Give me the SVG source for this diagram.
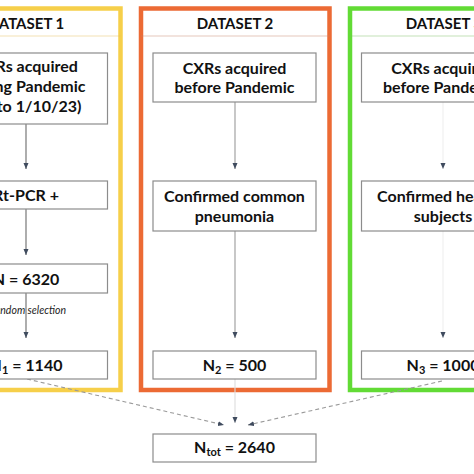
<svg xmlns="http://www.w3.org/2000/svg" width="474" height="474" viewBox="0 0 474 474">
<defs>
<marker id="ah" viewBox="0 0 6 6" refX="6" refY="3" markerWidth="6" markerHeight="6" markerUnits="userSpaceOnUse" orient="auto">
<path d="M0,0.5 L6,3 L0,5.5 z" fill="#3f4b5e"/>
</marker>
<style>
.frame{fill:none;stroke-width:4.5}
.sep{stroke-width:1.2;opacity:0.45}
.box{fill:#fff;stroke:#8c8c8c;stroke-width:1.2}
.t{font-family:Lato,"Open Sans",sans-serif;font-weight:bold;font-size:16px;fill:#111;text-anchor:middle}
.h{font-family:Lato,"Open Sans",sans-serif;font-weight:bold;font-size:15px;fill:#111;text-anchor:middle}
.sub{font-size:11px}
.it{font-family:Lato,"Open Sans",sans-serif;font-style:italic;font-size:10.5px;fill:#222;text-anchor:end}
.c{fill:none;stroke-width:1.1}
</style>
</defs>
<rect width="474" height="474" fill="#fff"/>
<g id="dataset1">
<rect class="frame" x="-68" y="8.5" width="188.5" height="381.5" stroke="#F6CF4A"/>
<line class="sep" x1="-68" y1="36" x2="120.5" y2="36" stroke="#E6C15A"/>
<text class="h" x="26" y="29">DATASET 1</text>
</g>
<g id="dataset2">
<rect class="frame" x="141" y="8.5" width="188.5" height="381.5" stroke="#EC6A34"/>
<line class="sep" x1="141" y1="36" x2="329.5" y2="36" stroke="#C8866A"/>
<text class="h" x="235" y="29">DATASET 2</text>
</g>
<g id="dataset3">
<rect class="frame" x="350" y="8.5" width="188.5" height="381.5" stroke="#62DB35"/>
<line class="sep" x1="350" y1="36" x2="538.5" y2="36" stroke="#7DBE62"/>
<text class="h" x="444" y="29">DATASET 3</text>
</g>
<g id="connectors">
<line class="c" x1="26" y1="124" x2="26" y2="169" stroke="#6b6b6b" marker-end="url(#ah)"/>
<line class="c" x1="26" y1="209" x2="26" y2="255" stroke="#6b6b6b" marker-end="url(#ah)"/>
<line class="c" x1="26" y1="293" x2="26" y2="338" stroke="#6b6b6b" marker-end="url(#ah)"/>
<line class="c" x1="235" y1="102" x2="235" y2="169" stroke="#9a9a9a" marker-end="url(#ah)"/>
<line class="c" x1="235" y1="231" x2="235" y2="338" stroke="#9a9a9a" marker-end="url(#ah)"/>
<line class="c" x1="443" y1="102" x2="443" y2="169" stroke="#efefef" marker-end="url(#ah)"/>
<line class="c" x1="443" y1="231" x2="443" y2="338" stroke="#efefef" marker-end="url(#ah)"/>
<line class="c" x1="235" y1="379" x2="235" y2="423" stroke="#dcdcdc" marker-end="url(#ah)"/>
<line class="c" x1="27" y1="379" x2="224" y2="425" stroke="#9a9a9a" stroke-dasharray="4 3" marker-end="url(#ah)"/>
<line class="c" x1="442" y1="381" x2="248" y2="425" stroke="#9a9a9a" stroke-dasharray="4 3" marker-end="url(#ah)"/>
<text class="it" x="66" y="314">Random selection</text>
</g>
<g id="d1-acquired">
<rect class="box" x="-55.5" y="53" width="163" height="71"/>
<text class="t" x="26" y="72">CXRs acquired</text>
<text class="t" x="26" y="92">during Pandemic</text>
<text class="t" x="26" y="112">(up to 1/10/23)</text>
</g>
<g id="d1-rtpcr">
<rect class="box" x="-55.5" y="181" width="163" height="28"/>
<text class="t" x="26" y="200.5">Rt-PCR +</text>
</g>
<g id="d1-n">
<rect class="box" x="-55.5" y="264" width="163" height="29"/>
<text class="t" x="26" y="284.5">N = 6320</text>
</g>
<g id="d1-n1">
<rect class="box" x="-55.5" y="351" width="163" height="28"/>
<text class="t" x="26" y="371">N<tspan class="sub" dy="3">1</tspan><tspan dy="-3"> = 1140</tspan></text>
</g>
<g id="d2-acquired">
<rect class="box" x="153" y="53" width="163" height="49"/>
<text class="t" x="234.5" y="74">CXRs acquired</text>
<text class="t" x="234.5" y="93">before Pandemic</text>
</g>
<g id="d2-confirmed">
<rect class="box" x="153" y="181" width="163" height="50"/>
<text class="t" x="234.5" y="201.5">Confirmed common</text>
<text class="t" x="234.5" y="221.5">pneumonia</text>
</g>
<g id="d2-n2">
<rect class="box" x="153" y="351" width="163" height="28"/>
<text class="t" x="234.5" y="371">N<tspan class="sub" dy="3">2</tspan><tspan dy="-3"> = 500</tspan></text>
</g>
<g id="d3-acquired">
<rect class="box" x="361.5" y="53" width="163" height="49"/>
<text class="t" x="443" y="74">CXRs acquired</text>
<text class="t" x="443" y="93">before Pandemic</text>
</g>
<g id="d3-confirmed">
<rect class="box" x="361.5" y="181" width="163" height="50"/>
<text class="t" x="443" y="201.5">Confirmed healthy</text>
<text class="t" x="443" y="221.5">subjects</text>
</g>
<g id="d3-n3">
<rect class="box" x="361.5" y="351" width="163" height="28"/>
<text class="t" x="443" y="371">N<tspan class="sub" dy="3">3</tspan><tspan dy="-3"> = 1000</tspan></text>
</g>
<g id="total">
<rect class="box" x="153" y="434" width="163" height="28"/>
<text class="t" x="234.5" y="453">N<tspan class="sub" dy="3">tot</tspan><tspan dy="-3"> = 2640</tspan></text>
</g>
</svg>
